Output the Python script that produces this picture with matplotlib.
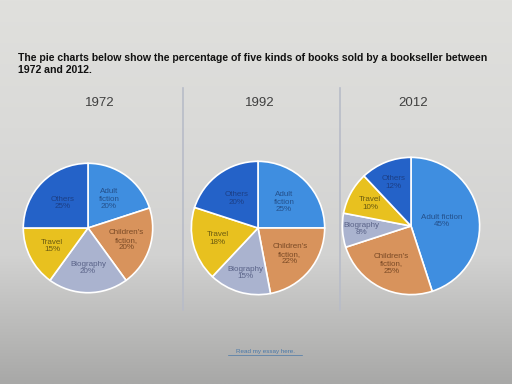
import matplotlib
matplotlib.use("Agg")
import matplotlib.pyplot as plt
import numpy as np

years = ["1972", "1992", "2012"]
categories = ["Adult fiction", "Children's fiction", "Biography", "Travel", "Others"]
values_1972 = [20, 20, 20, 15, 25]
values_1992 = [25, 22, 15, 18, 20]
values_2012 = [45, 25, 8, 10, 12]
labels_1972 = ["Adult\nfiction\n20%", "Children's\nfiction,\n20%", "Biography\n20%", "Travel\n15%", "Others\n25%"]
labels_1992 = ["Adult\nfiction\n25%", "Children's\nfiction,\n22%", "Biography\n15%", "Travel\n18%", "Others\n20%"]
labels_2012 = ["Adult fiction\n45%", "Children's\nfiction,\n25%", "Biography\n8%", "Travel\n10%", "Others\n12%"]

colors = ["#3f8ee0", "#d8935c", "#aab3cf", "#e8c11f", "#2462c8"]
text_colors = ["#24508a", "#7a4a26", "#5a6388", "#6a5a10", "#1c3f86"]

fig = plt.figure(figsize=(5.12, 3.84), dpi=100)
# background
bg = fig.add_axes([0, 0, 1, 1])
grad = np.linspace(0, 1, 256)[:, None]
bg.imshow(grad, aspect="auto", cmap=matplotlib.colors.LinearSegmentedColormap.from_list(
    "bg", ["#e0e0dd", "#dadad8", "#d2d2d1", "#a8a8a7"]), extent=[0, 1, 0, 1], origin="upper")
bg.set_xlim(0, 1); bg.set_ylim(0, 1); bg.axis("off")

fig.text(0.036, 0.834, "The pie charts below show the percentage of five kinds of books sold by a bookseller between\n1972 and 2012.",
         fontsize=7.6, fontweight="bold", family="Liberation Sans", color="#111111", va="center", linespacing=1.2)

# dividers
for xd in [183 / 512, 340 / 512]:
    bg.plot([xd, xd], [1 - 88 / 384, 1 - 310 / 384], color="#b8bcc8", lw=1.2)

centers = [(88, 228), (258, 228), (411, 226)]
radii = [66, 68, 70]
title_x = [100, 260, 413]
all_vals = [values_1972, values_1992, values_2012]
all_labels = [labels_1972, labels_1992, labels_2012]
label_dist = [
    [0.55, 0.62, 0.62, 0.62, 0.55],
    [0.55, 0.62, 0.70, 0.62, 0.55],
    [0.45, 0.62, 0.72, 0.68, 0.68],
]

for i, yr in enumerate(years):
    cx, cy = centers[i]
    r = radii[i]
    ax = fig.add_axes([(cx - r) / 512, 1 - (cy + r) / 384, 2 * r / 512, 2 * r / 384])
    wedges, _ = ax.pie(all_vals[i], colors=colors, startangle=90, counterclock=False,
                       wedgeprops=dict(edgecolor="white", linewidth=1.2))
    for j, w in enumerate(wedges):
        ang = np.deg2rad((w.theta1 + w.theta2) / 2)
        d = label_dist[i][j]
        ax.text(d * np.cos(ang), d * np.sin(ang), all_labels[i][j], ha="center", va="center",
                fontsize=5.8, color=text_colors[j], family="Liberation Sans", linespacing=1.1)
    ax.set_xlim(-1.02, 1.02); ax.set_ylim(-1.02, 1.02)
    ax.set_aspect("equal")
    fig.text(title_x[i] / 512, 1 - 103 / 384, yr, ha="center", va="center", fontsize=9.5,
             color="#404040", family="Liberation Sans")

fig.text(265 / 512, 1 - 352 / 384, "Read my essay here.", ha="center", va="center", fontsize=4.5,
         color="#4a78a8", family="Liberation Sans")
bg.plot([228 / 512, 302 / 512], [1 - 355 / 384, 1 - 355 / 384], color="#4a78a8", lw=0.5)

fig.savefig("out.png", dpi=100)
